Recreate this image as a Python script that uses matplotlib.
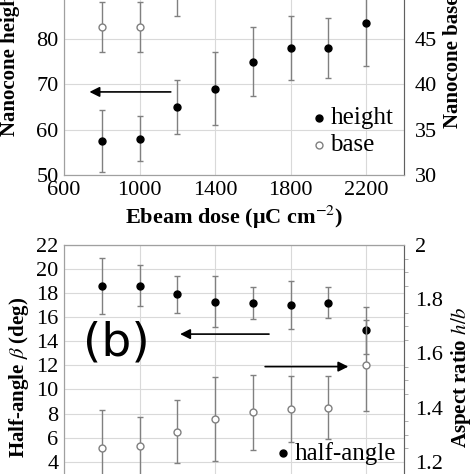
import matplotlib
matplotlib.use("Agg")
import matplotlib.pyplot as plt
import numpy as np

plt.rcParams['font.family'] = ['Liberation Serif', 'DejaVu Serif']
plt.rcParams['mathtext.fontset'] = 'stix'

dose = [800, 1000, 1200, 1400, 1600, 1800, 2000, 2200]
height = [57.5, 58.0, 65.0, 69.0, 75.0, 78.0, 78.0, 83.5]
height_err = [6.9, 5.0, 6.0, 8.0, 7.5, 7.0, 6.6, 9.4]
base = [46.25, 46.25, 50.0, 51.5, 56.5, 57.5, 58.0, 58.5]
base_err = [2.75, 2.75, 2.5, 1.5, 2.0, 2.0, 2.0, 2.0]
half_angle = [18.6, 18.6, 17.9, 17.3, 17.2, 17.0, 17.2, 14.9]
half_err = [2.3, 1.7, 1.55, 2.15, 1.35, 2.0, 1.3, 1.95]
aspect = [1.249, 1.258, 1.311, 1.356, 1.382, 1.396, 1.400, 1.556]
aspect_err = [0.142, 0.107, 0.116, 0.155, 0.138, 0.122, 0.116, 0.169]

fig = plt.figure(figsize=(4.74, 4.74), dpi=100)
W = H = 474.0
def rect(l, r, t, b):
    return [l / W, 1 - b / H, (r - l) / W, (b - t) / H]

grid_c = '#d9d9d9'
ecol = '#808080'
fs = 16
lfs = 15

def style(ax):
    ax.grid(True, color=grid_c, lw=0.8)
    ax.set_axisbelow(True)
    for s in ax.spines.values():
        s.set_color('#a0a0a0')
    ax.tick_params(labelsize=fs, length=0, pad=4)

# top panel
ax1 = fig.add_axes(rect(64, 404, -52, 175))
ax1.errorbar(dose, height, yerr=height_err, fmt='o', color='black', ms=5,
             ecolor=ecol, elinewidth=1, capsize=2, zorder=3)
ax1.set_xlim(600, 2400)
ax1.set_ylim(50, 100)
ax1.set_xticks([600, 1000, 1400, 1800, 2200])
ax1.set_yticks(np.arange(50, 101, 10))
style(ax1)
ax1.set_xlabel('Ebeam dose (μC cm$^{-2}$)', fontsize=lfs + 1, fontweight='bold', labelpad=3)
ax1.set_ylabel('Nanocone height', fontsize=lfs, fontweight='bold', labelpad=4)
ax1r = ax1.twinx()
ax1r.errorbar(dose, base, yerr=base_err, fmt='o', mfc='white', mec=ecol, ms=5,
              ecolor=ecol, elinewidth=1, capsize=2, zorder=3)
ax1r.set_ylim(30, 55)
ax1r.set_yticks(np.arange(30, 56, 5))
ax1r.tick_params(labelsize=fs, length=0, pad=8)
ax1r.set_ylabel('Nanocone base', fontsize=lfs, fontweight='bold', labelpad=4)
for s in ax1r.spines.values():
    s.set_color('#a0a0a0')
ax1r.spines['right'].set_color('#606060')
ax1.annotate('', xy=(720, 68.3), xytext=(1180, 68.3),
             arrowprops=dict(arrowstyle='-|>', color='black', lw=1.2, mutation_scale=15))
ax1.plot([1950], [62.5], 'o', color='black', ms=5)
ax1.text(2010, 62.5, 'height', fontsize=fs + 2, va='center')
ax1.plot([1950], [56.6], 'o', mfc='white', mec=ecol, ms=5)
ax1.text(2010, 56.6, 'base', fontsize=fs + 2, va='center')

# bottom panel
ax2 = fig.add_axes(rect(64, 404, 245, 509.9))
ax2.errorbar(dose, half_angle, yerr=half_err, fmt='o', color='black', ms=5,
             ecolor=ecol, elinewidth=1, capsize=2, zorder=3)
ax2.set_xlim(600, 2400)
ax2.set_ylim(0, 22)
ax2.set_xticks([600, 1000, 1400, 1800, 2200])
ax2.set_yticks(np.arange(0, 23, 2))
style(ax2)
ax2.spines['top'].set_color('#606060')
ax2.set_ylabel(r'Half-angle $\beta$ (deg)', fontsize=lfs, fontweight='bold', labelpad=4)
ax2r = ax2.twinx()
ax2r.errorbar(dose, aspect, yerr=aspect_err, fmt='o', mfc='white', mec=ecol, ms=5,
              ecolor=ecol, elinewidth=1, capsize=2, zorder=3)
ax2r.set_ylim(1.2 - 4 * 0.8 / 18, 2.0)
ax2r.set_yticks([1.2, 1.4, 1.6, 1.8, 2.0])
ax2r.set_yticklabels(['1.2', '1.4', '1.6', '1.8', '2'])
ax2r.set_yticks(np.arange(1.1, 2.0, 0.05), minor=True)
ax2r.tick_params(labelsize=fs, length=0, pad=8)
ax2r.tick_params(which='minor', length=3, color='#a0a0a0')
for s in ax2r.spines.values():
    s.set_color('#a0a0a0')
ax2r.spines['right'].set_color('#606060')
ax2r.set_ylabel('Aspect ratio $\\mathbf{\\it{h/b}}$', fontsize=lfs, fontweight='bold', labelpad=4)
ax2.annotate('', xy=(1200, 14.6), xytext=(1700, 14.6),
             arrowprops=dict(arrowstyle='-|>', color='black', lw=1.2, mutation_scale=15))
ax2.annotate('', xy=(2120, 11.9), xytext=(1650, 11.9),
             arrowprops=dict(arrowstyle='-|>', color='black', lw=1.2, mutation_scale=15))
ax2.text(700, 13.9, '(b)', fontsize=34, family='DejaVu Sans', va='center')
ax2.plot([1760], [4.7], 'o', color='black', ms=5)
ax2.text(1820, 4.7, 'half-angle', fontsize=fs + 2, va='center')

fig.savefig('out.png', dpi=100)
